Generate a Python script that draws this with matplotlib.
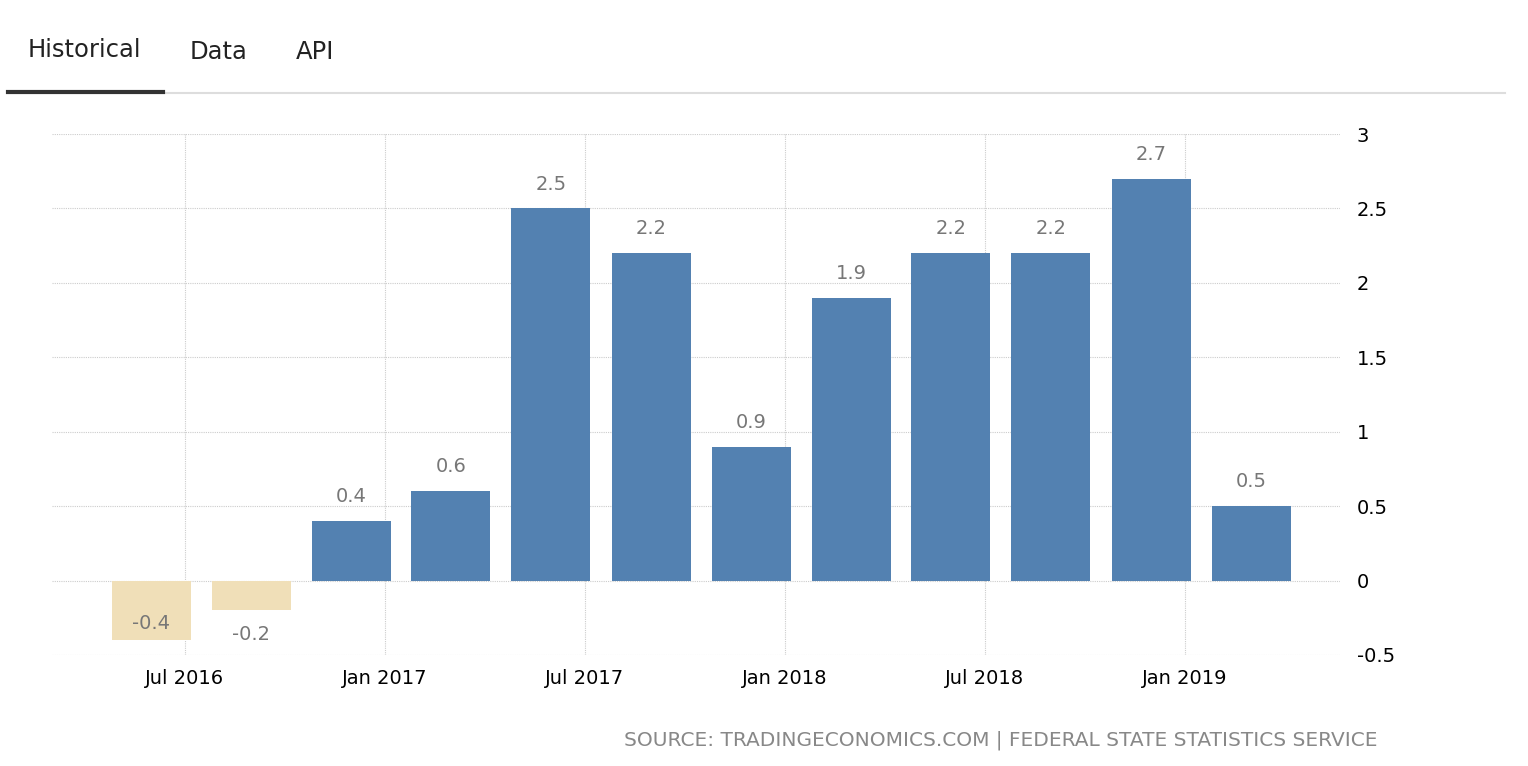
import matplotlib
matplotlib.use("Agg")
import matplotlib.pyplot as plt
from matplotlib.lines import Line2D

values = [-0.4, -0.2, 0.4, 0.6, 2.5, 2.2, 0.9, 1.9, 2.2, 2.2, 2.7, 0.5]
tick_labels = ["Jul 2016", "Jan 2017", "Jul 2017", "Jan 2018", "Jul 2018", "Jan 2019"]
yticks = [-0.5, 0, 0.5, 1, 1.5, 2, 2.5, 3]

fig = plt.figure(figsize=(15.28, 7.66), dpi=100)
fig.patch.set_facecolor("white")
ax = fig.add_axes([52/1528, 1-655/766, (1340-52)/1528, (655-134)/766])
x = list(range(len(values)))
colors = ["#f0dfb8" if v < 0 else "#5381b1" for v in values]
ax.bar(x, values, width=0.79, color=colors, zorder=2)
for xi, v in zip(x, values):
    if v >= 0:
        ax.text(xi, v + 0.1, f"{v:g}", ha="center", va="bottom", fontsize=14, color="#777777")
    else:
        ax.text(xi, -0.29 if v < -0.3 else -0.36, f"{v:g}", ha="center",
                va="center", fontsize=14, color="#777777", zorder=3)
ax.set_xlim(-0.99, 11.89)
ax.set_ylim(-0.5, 3)
ax.set_xticks([0.34 + 2*k for k in range(len(tick_labels))])
ax.set_xticklabels(tick_labels, fontsize=14)
ax.set_yticks(yticks)
ax.set_yticklabels([f"{t:g}" for t in yticks], fontsize=14)
ax.yaxis.tick_right()
ax.tick_params(axis="x", length=0, pad=10)
ax.tick_params(axis="y", length=0, pad=12)
ax.grid(True, color="#cccccc", linestyle=(0, (1, 1)), linewidth=0.8, zorder=0)
for s in ax.spines.values():
    s.set_visible(False)

fig.text(28/1528, 1-50/766, "Historical", fontsize=17.5, va="center", color="#222222")
fig.text(190/1528, 1-52/766, "Data", fontsize=17.5, va="center", color="#222222")
fig.text(296/1528, 1-52/766, "API", fontsize=17.5, va="center", color="#222222")
fig.add_artist(Line2D([8/1528, 1505/1528], [1-93/766]*2, color="#dddddd", lw=1.5))
fig.add_artist(Line2D([8/1528, 163/1528], [1-92/766]*2, color="#333333", lw=3))
fig.text(1378/1528, 1-740/766, "SOURCE: TRADINGECONOMICS.COM | FEDERAL STATE STATISTICS SERVICE",
         ha="right", va="center", fontsize=14.5, color="#888888")
fig.savefig("out.png", dpi=100)
